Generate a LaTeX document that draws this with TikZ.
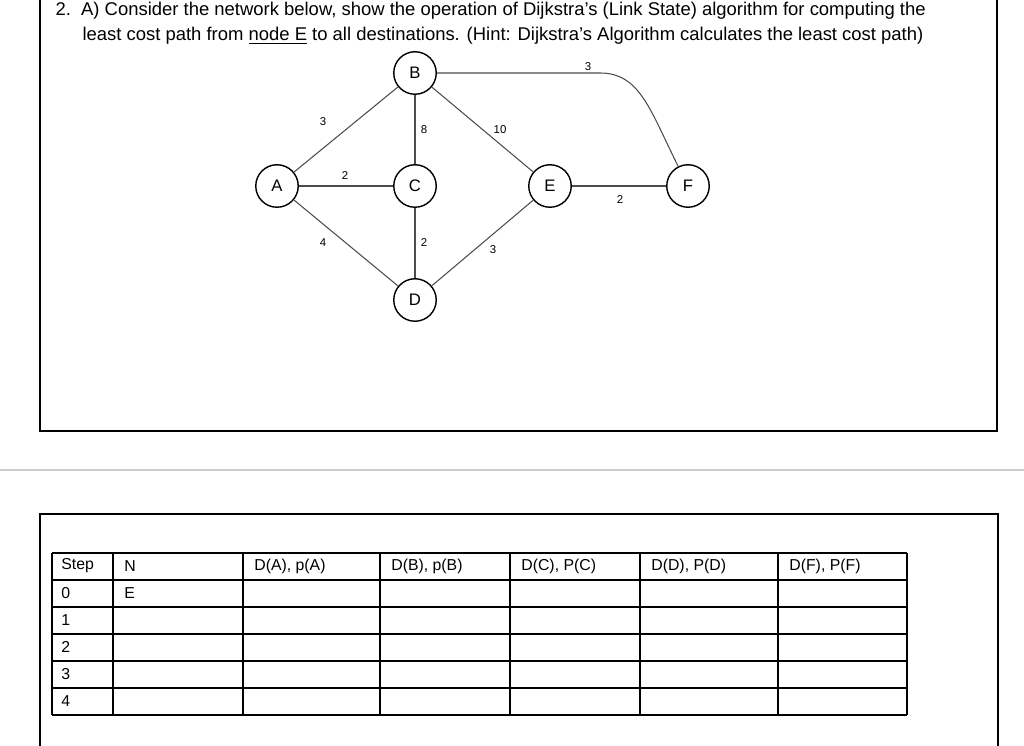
\documentclass[tikz,border=0pt]{standalone}
\usepackage{fontspec}
\setmainfont{Liberation Sans}
\def\cellh{27}

\begin{document}
\begin{tikzpicture}[x=0.02cm,y=-0.02cm,line width=0.6pt]
    \tikzstyle{router}=[circle,draw,thick,minimum size=0.85cm,inner sep=0pt,font=\fontsize{9.5}{11}\selectfont]
    \tikzstyle{link}=[draw=black!70,line width=0.6pt]
    \tikzstyle{cost}=[font=\fontsize{6.5}{8}\selectfont]
    \tikzstyle{cell}=[anchor=west,font=\fontsize{9}{10}\selectfont]
    \useasboundingbox (0,0) rectangle (1024,746);

    % Question text
    \node[anchor=west,inner sep=0pt,font=\fontsize{10.5}{12}\selectfont] (q1) at (55,11)
        {2.\ \ A) Consider the network below, show the operation of Dijkstra’s (Link State) algorithm for computing the};
    \node[anchor=west,inner sep=0pt,font=\fontsize{10.5}{12}\selectfont] (q2) at (82,36)
        {least cost path from \underline{node E} to all destinations. (Hint: Dijkstra’s Algorithm calculates the least cost path)};

    % Frames
    \draw (40,0) -- (40,431) -- (997,431) -- (997,0);
    \draw[black!20] (0,470) -- (1024,470);
    \draw (40,746) -- (40,514) -- (998,514) -- (998,746);

    % Routers
    \node[router] (B) at (415,73) {B};
    \node[router] (A) at (277,186) {A};
    \node[router] (C) at (415,186) {C};
    \node[router] (E) at (550,186) {E};
    \node[router] (F) at (688,186) {F};
    \node[router] (D) at (415,300) {D};

    % Links
    \draw[link] (A) -- (B);
    \draw[link] (A) -- (C);
    \draw[link] (A) -- (D);
    \draw[link] (B) -- (C);
    \draw[link] (B) -- (E);
    \draw[link] (C) -- (D);
    \draw[link] (D) -- (E);
    \draw[link] (E) -- (F);
    \draw[link] (B) -- (600,73) .. controls (640,73) and (650,110) .. (F);

    % Costs
    \node[cost] (cAB) at (323,122) {3};
    \node[cost] (cAC) at (345,176) {2};
    \node[cost] (cAD) at (323,243) {4};
    \node[cost] (cBC) at (424,130) {8};
    \node[cost] (cBE) at (500,130) {10};
    \node[cost] (cCD) at (424,243) {2};
    \node[cost] (cDE) at (493,250) {3};
    \node[cost] (cEF) at (620,200) {2};
    \node[cost] (cBF) at (588,67) {3};

    % Table
    \foreach \x in {52,113,243,380,510,640,778,907}
        \draw (\x,553) -- (\x,715);
    \foreach \r in {0,...,6}
        \draw (52,553+\r*\cellh) -- (907,553+\r*\cellh);
    \foreach \x/\t in {55/Step,118/N,248/{D(A), p(A)},385/{D(B), p(B)},515/{D(C), P(C)},645/{D(D), P(D)},783/{D(F), P(F)}}
        \node[cell] at (\x,566) {\t};
    \foreach \r in {0,...,4}
        \node[cell] at (55,593+\r*\cellh) {\r};
    \node[cell] (nE) at (118,593) {E};
\end{tikzpicture}
\end{document}
